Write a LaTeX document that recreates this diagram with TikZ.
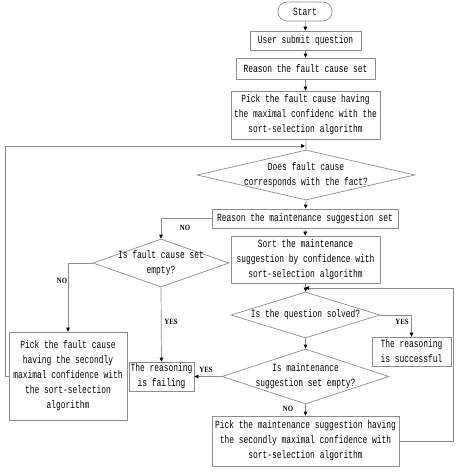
\documentclass[tikz,border=0pt]{standalone}
\usepackage{fontspec}
\usetikzlibrary{arrows.meta, shapes.geometric}
\newfontfamily\boxfont{Liberation Mono}[FakeStretch=0.72]
\newfontfamily\tagfont{Liberation Serif}[FakeStretch=0.85]
\definecolor{lineGray}{HTML}{8C8C8C}
\tikzset{
  box/.style={draw=lineGray, line width=0.7pt, inner sep=0pt, align=center,
    font=\boxfont\fontsize{11}{15}\selectfont},
  decision/.style={draw=lineGray, line width=0.7pt, diamond, inner sep=0pt,
    label={[align=center, font=\boxfont\fontsize{11}{15}\selectfont]center:#1}},
  arr/.style={draw=lineGray, line width=0.7pt,
    -{Triangle[length=4pt, width=3.6pt, color=black]}},
  link/.style={draw=lineGray, line width=0.7pt},
  tag/.style={font=\tagfont\bfseries\fontsize{8}{8}\selectfont, inner sep=0pt}
}
\begin{document}
\begin{tikzpicture}[x=1pt, y=-1pt]
    \useasboundingbox (0,0) rectangle (474,476);
    % main column
    \node[box, rounded corners=9pt, minimum width=54, minimum height=19] (start) at (305,11.5) {Start};
    \node[box, minimum width=111, minimum height=19] (user) at (305.5,40.5) {User submit question};
    \node[box, minimum width=139, minimum height=21] (rfc) at (305.5,68.5) {Reason the fault cause set};
    \node[box, minimum width=149, minimum height=48] (pick) at (305.5,115)
      {Pick the fault cause having\\the maximal confidenc with the\\sort-selection algorithm};
    \node[decision={Does fault cause\\corresponds with the fact?}, minimum width=218, minimum height=50] (fact) at (306,175) {};
    \node[box, minimum width=186, minimum height=19] (rms) at (305,218.5) {Reason the maintenance suggestion set};
    \node[box, minimum width=149, minimum height=47] (sort) at (305.5,259.5)
      {Sort the maintenance\\suggestion by confidence with\\sort-selection algorithm};
    \node[decision={Is the question solved?}, minimum width=149, minimum height=46] (solved) at (305.5,315) {};
    \node[decision={Is maintenance\\suggestion set empty?}, minimum width=167, minimum height=55] (msempty) at (305.5,376.5) {};
    \node[box, minimum width=187, minimum height=50] (pickM) at (305.5,441)
      {Pick the maintenance suggestion having\\the secondly maximal confidence with\\sort-selection algorithm};
    % left and right branches
    \node[decision={Is fault cause set\\empty?}, minimum width=136, minimum height=48] (fcempty) at (161,263) {};
    \node[box, minimum width=118, minimum height=88] (pickL) at (68,376)
      {Pick the fault cause\\having the secondly\\maximal confidence with\\the sort-selection\\algorithm};
    \node[box, minimum width=65, minimum height=29] (fail) at (161.5,376.5) {The reasoning\\is failing};
    \node[box, minimum width=79, minimum height=29] (succ) at (411.5,351.5) {The reasoning\\is successful};
    \coordinate (joinA) at (305,146);
    \coordinate (loopA) at (5,146);
    \coordinate (joinB) at (305,288);
    \coordinate (loopB) at (453,288);

    \draw[arr] (start) -- (user);
    \draw[arr] (user) -- (rfc);
    \draw[arr] (rfc) -- (pick);
    \draw[link] (pick) -- (fact.north);
    \draw[arr] (pickL.west) -| (loopA) -- (joinA);
    \draw[arr] (fact.south) -- (rms);
    \draw[arr] (rms) -- (sort);
    \draw[arr] (rms.west) -| (fcempty.north);
    \draw[arr] (fcempty.west) -| (pickL.north);
    \draw[arr] (fcempty.south) -- (fail.north);
    \draw[arr] (sort) -- (solved.north);
    \draw[arr] (pickM.east) -| (loopB) -- (joinB);
    \draw[arr] (solved.east) -| (succ.north);
    \draw[arr] (solved.south) -- (msempty.north);
    \draw[arr] (msempty.west) -- (fail.east |- msempty.west);
    \draw[arr] (msempty.south) -- (pickM.north);

    \node[tag] (tNoA) at (185,228) {NO};
    \node[tag] (tNoB) at (62,281) {NO};
    \node[tag] (tYesA) at (171,322) {YES};
    \node[tag] (tYesB) at (402,322) {YES};
    \node[tag] (tYesC) at (206,370) {YES};
    \node[tag] (tNoC) at (288,409) {NO};
\end{tikzpicture}
\end{document}
